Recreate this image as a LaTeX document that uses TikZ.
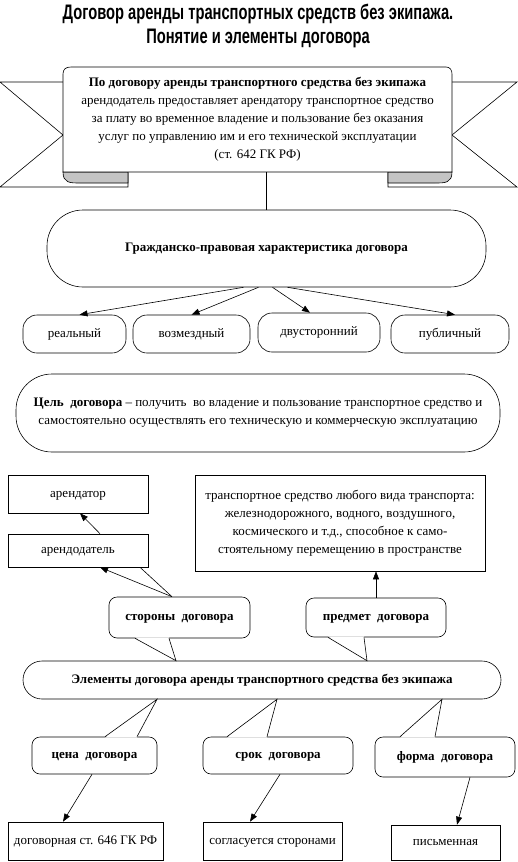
\documentclass[tikz,border=0pt]{standalone}
\usepackage{fontspec}
\setmainfont{Liberation Serif}
\newfontfamily\titlefont[FakeStretch=0.7]{Liberation Sans}
\usepackage{tikz}
\usetikzlibrary{positioning,arrows.meta}
\definecolor{foldgrey}{HTML}{C4C4C4}

\begin{document}
\begin{tikzpicture}[x=1pt,y=-1pt,line width=0.6pt,
  ttl/.style={font=\titlefont\bfseries\fontsize{21}{24}\selectfont,align=center,inner sep=0pt},
  txt/.style={font=\fontsize{13}{18}\selectfont,align=center,inner sep=0pt},
  oneline/.style={text height=9pt,text depth=3pt},
  pill/.style={txt,draw,rounded corners=#1},
  pill/.default=14pt,
  box/.style={txt,draw,rectangle},
  bubble/.style={draw,fill=white,rounded corners=8pt,align=center,inner sep=0pt,oneline,
    font=\bfseries\fontsize{13}{18}\selectfont},
  arr/.style={-{Triangle[length=8pt,width=6pt]}},
  tail/.style={fill=white,draw=none}]
\useasboundingbox (0,0) rectangle (517,862);
\node[ttl] (title) at (258,26) {Договор аренды транспортных средств без экипажа.\\Понятие и элементы договора};
% ribbon
\draw[fill=white] (63,82) -- (0,82) -- (63,135) -- (0,187) -- (128,187) -- (128,172);
\draw[fill=white] (452,82) -- (517,82) -- (452,135) -- (517,187) -- (388,187) -- (388,172);
\draw[fill=foldgrey] (63,172) .. controls (63,183) and (70,183) .. (80,183) -- (128,183) -- (128,172) -- cycle;
\draw[fill=foldgrey] (452,172) .. controls (452,183) and (445,183) .. (435,183) -- (388,183) -- (388,172) -- cycle;
\draw[fill=white] (63,172) -- (63,74) .. controls (63,69) and (66,67) .. (71,67) -- (446,67)
  .. controls (450,67) and (452,70) .. (452,74) -- (452,172) -- cycle;
\node[txt,minimum width=389pt,minimum height=105pt] (def) at (257.5,119.5)
  {\textbf{По договору аренды транспортного средства без экипажа}\\
   арендодатель предоставляет арендатору транспортное средство\\
   за плату во временное владение и пользование без оказания\\
   услуг по управлению им и его технической эксплуатации\\
   (ст. 642 ГК РФ)};
% characteristics
\node[pill=36pt,oneline,minimum width=439pt,minimum height=77pt,font=\bfseries\fontsize{13}{18}\selectfont] (char) at (266.5,248.5) {Гражданско-правовая характеристика договора};
\draw (char.north |- def.south) -- (char.north);
\node[pill,oneline,minimum width=103pt,minimum height=38pt] (real) at (74.5,334) {реальный};
\node[pill,oneline,minimum width=117pt,minimum height=38pt] (paid) at (191.5,334) {возмездный};
\node[pill,oneline,minimum width=122pt,minimum height=39pt] (bilat) at (319,332.5) {двусторонний};
\node[pill,oneline,minimum width=118pt,minimum height=38pt] (public) at (450,334) {публичный};
\draw[arr] ([xshift=-23pt]char.south) -- ([xshift=5pt]real.north);
\draw[arr] ([xshift=-8pt]char.south) -- (paid.north);
\draw[arr] ([xshift=6pt]char.south) -- ([xshift=-9pt]bilat.north);
\draw[arr] ([xshift=21pt]char.south) -- ([xshift=5pt]public.north);
% goal
\node[pill=36pt,minimum width=484pt,minimum height=78pt] (goal) at (258,413)
  {\textbf{Цель\ \ договора} -- получить\ \ во владение и пользование транспортное средство и\\
   самостоятельно осуществлять его техническую и коммерческую эксплуатацию};
% parties and subject
\node[box,oneline,minimum width=140pt,minimum height=38pt] (lessee) at (78,494) {арендатор};
\node[box,oneline,minimum width=140pt,minimum height=33pt] (lessor) at (78,550.5) {арендодатель};
\draw[arr] ([xshift=22pt]lessor.north) -- ([xshift=2pt]lessee.south);
\node[box,minimum width=290pt,minimum height=96pt] (subj) at (340,523)
  {транспортное средство любого вида транспорта:\\
   железнодорожного, водного, воздушного,\\
   космического и т.д., способное к само-\\
   стоятельному перемещению в пространстве};
\node[pill=19pt,oneline,minimum width=478pt,minimum height=38pt,font=\bfseries\fontsize{13}{18}\selectfont] (elem) at (262,680)
  {Элементы договора аренды транспортного средства без экипажа};
\node[bubble,minimum width=141pt,minimum height=41pt] (sides) at (179.5,617.5) {стороны\ \ договора};
\node[bubble,minimum width=140pt,minimum height=39pt] (subjc) at (376,617.5) {предмет\ \ договора};
\fill[tail] ([xshift=-44.5pt,yshift=1pt]sides.south) -- ([xshift=-86pt]elem.north) -- ([xshift=-10.5pt,yshift=1pt]sides.south) -- cycle;
\draw ([xshift=-44.5pt]sides.south) -- ([xshift=-86pt]elem.north) -- ([xshift=-10.5pt]sides.south);
\fill[tail] ([xshift=-48pt,yshift=1pt]subjc.south) -- ([xshift=105pt]elem.north) -- ([xshift=-12pt,yshift=1pt]subjc.south) -- cycle;
\draw ([xshift=-48pt]subjc.south) -- ([xshift=105pt]elem.north) -- ([xshift=-12pt]subjc.south);
\draw[arr] ([xshift=-7.5pt]sides.north) -- ([xshift=22pt]lessor.south);
\draw ([xshift=-7.5pt]sides.north) -- ([xshift=62pt]lessor.south);
\draw[arr] (subjc.north) -- (subjc.north |- subj.south);
% price, term, form
\node[bubble,minimum width=125pt,minimum height=37pt] (price) at (94.5,755.5) {цена\ \ договора};
\node[bubble,minimum width=150pt,minimum height=37pt] (term) at (278,755.5) {срок\ \ договора};
\node[bubble,minimum width=140pt,minimum height=40pt] (form) at (445,757) {форма\ \ договора};
\fill[tail] ([xshift=10.5pt,yshift=-1pt]price.north) -- ([xshift=-105pt]elem.south) -- ([xshift=42.5pt,yshift=-1pt]price.north) -- cycle;
\draw ([xshift=10.5pt]price.north) -- ([xshift=-105pt]elem.south) -- ([xshift=42.5pt]price.north);
\fill[tail] ([xshift=-51pt,yshift=-1pt]term.north) -- ([xshift=15pt]elem.south) -- ([xshift=-11pt,yshift=-1pt]term.north) -- cycle;
\draw ([xshift=-51pt]term.north) -- ([xshift=15pt]elem.south) -- ([xshift=-11pt]term.north);
\fill[tail] ([xshift=-45pt,yshift=-1pt]form.north) -- ([xshift=180pt]elem.south) -- ([xshift=-10pt,yshift=-1pt]form.north) -- cycle;
\draw ([xshift=-45pt]form.north) -- ([xshift=180pt]elem.south) -- ([xshift=-10pt]form.north);
\node[box,oneline,minimum width=155pt,minimum height=38pt] (contract) at (85.5,841) {договорная ст. 646 ГК РФ};
\node[box,oneline,minimum width=139pt,minimum height=38pt] (agreed) at (272.5,841) {согласуется сторонами};
\node[box,oneline,minimum width=109pt,minimum height=35pt] (written) at (445.5,842.5) {письменная};
\draw[arr] ([xshift=-2.5pt]price.south) -- ([xshift=-22.5pt]contract.north);
\draw[arr] ([xshift=2pt]term.south) -- ([xshift=-22.5pt]agreed.north);
\draw[arr] ([xshift=25pt]form.south) -- ([xshift=11.5pt]written.north);
\end{tikzpicture}
\end{document}
